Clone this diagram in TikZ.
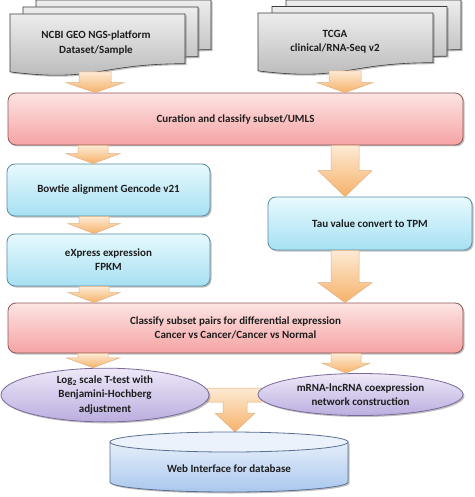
\documentclass[tikz,border=0pt]{standalone}
\usepackage{fontspec}
\setmainfont{Carlito}
\usetikzlibrary{shapes.geometric,shadows,calc}
\definecolor{pinkT}{HTML}{FDE4E4}
\definecolor{pinkB}{HTML}{F6A3A3}
\definecolor{pinkD}{HTML}{8C5A5A}
\definecolor{cyanT}{HTML}{E8FAFE}
\definecolor{cyanB}{HTML}{A6E0F2}
\definecolor{cyanD}{HTML}{5A8CA0}
\definecolor{lavT}{HTML}{EEE8F8}
\definecolor{lavB}{HTML}{BBAEDF}
\definecolor{lavD}{HTML}{7A6A9A}
\definecolor{cylT}{HTML}{E6EFFA}
\definecolor{cylB}{HTML}{A9C7EE}
\definecolor{cylD}{HTML}{5A7090}
\definecolor{grayT}{HTML}{EDEDED}
\definecolor{grayB}{HTML}{B6B6B6}
\definecolor{grayD}{HTML}{3C3C3C}
\definecolor{arrT}{HTML}{FDEAD4}
\definecolor{arrB}{HTML}{F6B26A}
\definecolor{arrD}{HTML}{E2B080}
\definecolor{txt}{HTML}{1E1E1E}
\tikzset{
  shad/.style={drop shadow={shadow xshift=1.5pt, shadow yshift=-1.5pt, opacity=0.35, fill=black!70}},
  lbl/.style={align=center, font=\bfseries\fontsize{11}{14.2}\selectfont, text=txt},
  box/.style={lbl, rounded corners=8pt, line width=0.8pt, shad, inner sep=0pt},
  pinkbox/.style={box, draw=pinkD, top color=pinkT, bottom color=pinkB},
  cyanbox/.style={box, draw=cyanD, top color=cyanT, bottom color=cyanB},
  lavell/.style={lbl, ellipse, inner sep=0pt, line width=0.8pt, draw=lavD, top color=lavT, bottom color=lavB, shad},
  sheetsty/.style={draw=grayD, line width=0.6pt, top color=grayT, bottom color=grayB, shad},
  arrowsty/.style={draw=arrD, line width=0.5pt, top color=arrT, bottom color=arrB},
  cylsty/.style={draw=cylD, line width=0.8pt},
}
\newcommand\docsheet[2]{\begin{scope}[shift={(#1,#2)}]
  \path[sheetsty] (0,0) -- (175,0) -- (175,49.7) .. controls (87.5,49.7) and (87.5,68.6) .. (0,57.9) -- cycle;
\end{scope}}
% vertical block arrow: #1 x centre, #2 from, #3 to, #4 half shaft, #5 half head, #6 head length
\newcommand\varrow[6]{%
  \path[arrowsty] let \p1=(#2), \p2=(#3) in
   ({(#1-#4)*1pt},\y1) -- ({(#1+#4)*1pt},\y1) -- ({(#1+#4)*1pt},{\y2+#6pt})
   -- ({(#1+#5)*1pt},{\y2+#6pt}) -- ({#1*1pt},\y2) -- ({(#1-#5)*1pt},{\y2+#6pt})
   -- ({(#1-#4)*1pt},{\y2+#6pt}) -- cycle;}
\begin{document}
\begin{tikzpicture}[x=1pt,y=-1pt]
\useasboundingbox (0,0) rectangle (474,497);
\fill[white] (0,0) rectangle (474,497);
% source stacks
\docsheet{36}{0}\docsheet{23}{7}\docsheet{10}{14}
\node[lbl] (ncbi) at (96,43) {NCBI GEO NGS-platform\\Dataset/Sample};
\coordinate (ncbib) at (95,71.8);
\docsheet{286}{0}\docsheet{272}{6.5}\docsheet{258}{13}
\node[lbl] (tcga) at (335,42) {TCGA\\clinical/RNA-Seq v2};
\coordinate (tcgab) at (345,70.8);
% boxes
\node[pinkbox, minimum width=455, minimum height=52] (cur) at (235.5,119) {Curation and classify subset/UMLS};
\node[cyanbox, minimum width=203, minimum height=52] (bow) at (108.5,190) {Bowtie alignment Gencode v21};
\node[cyanbox, minimum width=203, minimum height=52] (exp) at (108.5,260) {eXpress expression\\FPKM};
\node[cyanbox, minimum width=204, minimum height=53] (tau) at (370,223.5) {Tau value convert to TPM};
\node[pinkbox, minimum width=455, minimum height=50] (cls) at (235.5,328) {Classify subset pairs for differential expression\\Cancer vs Cancer/Cancer vs Normal};
% arrows
\varrow{95}{ncbib}{cur.north}{16}{29}{10}
\varrow{345}{tcgab}{cur.north}{16}{28}{10}
\varrow{93}{cur.south}{bow.north}{15}{27}{10}
\varrow{345}{cur.south}{tau.north}{14}{27}{26}
\varrow{94}{bow.south}{exp.north}{15}{26}{10}
\varrow{94}{exp.south}{cls.north}{15}{26}{10}
\varrow{345}{tau.south}{cls.north}{14}{27}{20}
% T arrow and database
\coordinate (webtop) at (235,432);
\coordinate (logr) at (207,395);
\coordinate (mrnal) at (262,395);
\path[arrowsty] let \p1=(logr), \p2=(mrnal), \p3=(webtop) in
  (\x1,\y1+7pt) -- (\x2,\y1+7pt) -- (\x2,\y1-7pt) -- (\x3+12pt,\y1-7pt) -- (\x3+12pt,\y3+19pt)
  -- (\x3+20pt,\y3+19pt) -- (\x3,\y3) -- (\x3-20pt,\y3+19pt) -- (\x3-12pt,\y3+19pt)
  -- (\x3-12pt,\y1-7pt) -- (\x1,\y1-7pt) -- cycle;
\node[lavell, minimum width=208, minimum height=44] (log) at (105,395) {Log\textsubscript{2} scale T-test with\\Benjamini-Hochberg\\adjustment};
\node[lavell, minimum width=205, minimum height=42] (mrna) at (360.5,394.5) {mRNA-lncRNA coexpression\\network construction};
\varrow{93}{cls.south}{log.north}{15}{27}{10}
\varrow{346}{cls.south}{mrna.north}{15}{24}{10}
% cylinder
\path[cylsty, top color=cylT, bottom color=cylB, shad] (110,442) -- (110,482)
  .. controls (110,487.52) and (163.3,492) .. (229,492)
  .. controls (294.7,492) and (348,487.52) .. (348,482) -- (348,442) -- cycle;
\path[cylsty, fill=cylT!80!white] (110,442) .. controls (110,436.48) and (163.3,432) .. (229,432)
  .. controls (294.7,432) and (348,436.48) .. (348,442)
  .. controls (348,447.52) and (294.7,452) .. (229,452)
  .. controls (163.3,452) and (110,447.52) .. (110,442) -- cycle;
\node[lbl] (web) at (229,469) {Web Interface for database};
\end{tikzpicture}
\end{document}
